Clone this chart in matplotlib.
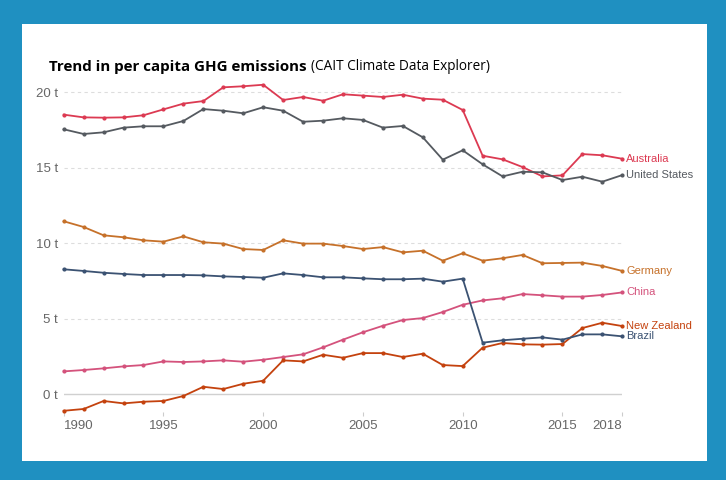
import numpy as np
import matplotlib.pyplot as plt
from matplotlib.patches import Rectangle

# per capita GHG emissions, tonnes
years = list(range(1990, 2019))

australia = [18.52, 18.34, 18.32, 18.34, 18.48, 18.87, 19.25, 19.42, 20.33, 20.40,
             20.50, 19.49, 19.69, 19.44, 19.87, 19.78, 19.69, 19.84, 19.58, 19.51,
             18.83, 15.80, 15.56, 15.05, 14.43, 14.50, 15.91, 15.83, 15.60]
united_states = [17.55, 17.24, 17.35, 17.66, 17.75, 17.75, 18.10, 18.89, 18.78, 18.61,
                 19.01, 18.78, 18.05, 18.12, 18.28, 18.17, 17.66, 17.77, 17.02, 15.54,
                 16.16, 15.23, 14.43, 14.74, 14.70, 14.19, 14.41, 14.08, 14.52]
germany = [11.46, 11.08, 10.53, 10.40, 10.20, 10.11, 10.46, 10.07, 9.98, 9.62,
           9.56, 10.20, 9.98, 9.98, 9.82, 9.62, 9.75, 9.40, 9.51, 8.85,
           9.34, 8.85, 9.01, 9.23, 8.68, 8.70, 8.72, 8.50, 8.17]
china = [1.52, 1.61, 1.72, 1.85, 1.94, 2.18, 2.14, 2.18, 2.25, 2.16,
         2.29, 2.47, 2.65, 3.11, 3.62, 4.11, 4.54, 4.92, 5.05, 5.45,
         5.93, 6.22, 6.36, 6.64, 6.56, 6.47, 6.47, 6.58, 6.75]
new_zealand = [-1.09, -0.97, -0.44, -0.60, -0.49, -0.44, -0.11, 0.50, 0.35, 0.70,
               0.90, 2.25, 2.18, 2.62, 2.42, 2.73, 2.73, 2.47, 2.69, 1.94,
               1.87, 3.09, 3.40, 3.31, 3.29, 3.33, 4.39, 4.74, 4.52]
brazil = [8.28, 8.17, 8.05, 7.97, 7.90, 7.90, 7.90, 7.88, 7.81, 7.77,
          7.72, 8.01, 7.90, 7.75, 7.75, 7.68, 7.62, 7.62, 7.66, 7.46,
          7.66, 3.42, 3.58, 3.68, 3.77, 3.62, 3.97, 3.97, 3.84]

series = [
    ("Australia", australia, "#dc3a52"),
    ("United States", united_states, "#555a60"),
    ("Germany", germany, "#c6712a"),
    ("China", china, "#d4527c"),
    ("New Zealand", new_zealand, "#c4420e"),
    ("Brazil", brazil, "#3b5272"),
]

y_ticks = [0, 5, 10, 15, 20]
x_ticks = [1990, 1995, 2000, 2005, 2010, 2015, 2018]

plt.rcParams["font.family"] = ["Liberation Sans", "DejaVu Sans"]

fig = plt.figure(figsize=(7.26, 4.8), dpi=100)
fig.patch.set_facecolor("#1f90c1")
# white card inside the blue frame
fig.patches.append(Rectangle((22 / 726, 1 - 461 / 480), 685 / 726, 437 / 480,
                             transform=fig.transFigure, facecolor="white",
                             edgecolor="none", zorder=-5))

ax = fig.add_axes([63.7 / 726, 1 - 412 / 480, (622.3 - 63.7) / 726, (412 - 77.2) / 480])
ax.set_zorder(2)
ax.set_facecolor("none")
ax.set_xlim(1990, 2018)
ax.set_ylim(-1.17, 21)

for s in ax.spines.values():
    s.set_visible(False)

for v in y_ticks:
    if v == 0:
        ax.axhline(v, color="#d0d0d0", lw=1.0, zorder=1)
    else:
        ax.axhline(v, color="#dddddd", lw=0.8, ls=(0, (3, 3)), zorder=1)

ax.set_yticks(y_ticks)
ax.set_yticklabels([f"{v} t" for v in y_ticks])
ax.tick_params(axis="y", length=0, pad=4, labelsize=9.5, labelcolor="#666666")

ax.set_xticks(x_ticks)
ax.set_xticklabels([str(x) for x in x_ticks])
ax.tick_params(axis="x", length=3, width=0.8, color="#cccccc", pad=3,
               labelsize=9.5, labelcolor="#666666")
xl = ax.get_xticklabels()
xl[0].set_horizontalalignment("left")
xl[-1].set_horizontalalignment("right")

for name, vals, col in series:
    ax.plot(years, vals, color=col, lw=1.3, marker="o", ms=2.0,
            clip_on=False, zorder=3)
    ax.annotate(name, xy=(years[-1], vals[-1]), xytext=(3, 0),
                textcoords="offset points", va="center", ha="left",
                fontsize=8.0, color=col, annotation_clip=False)

# title: bold part then source in normal weight
t1 = fig.text(49 / 726, 1 - 66.5 / 480, "Trend in per capita GHG emissions",
              fontsize=10.9, fontweight="bold", family="Open Sans",
              va="center", ha="left")
fig.canvas.draw()
bb = t1.get_window_extent(renderer=fig.canvas.get_renderer())
fig.text((bb.x1 + 4) / 726, 1 - 66.5 / 480, "(CAIT Climate Data Explorer)",
         fontsize=9.8, family="Open Sans", va="center", ha="left")

fig.savefig("out.png", dpi=100, facecolor=fig.get_facecolor())
